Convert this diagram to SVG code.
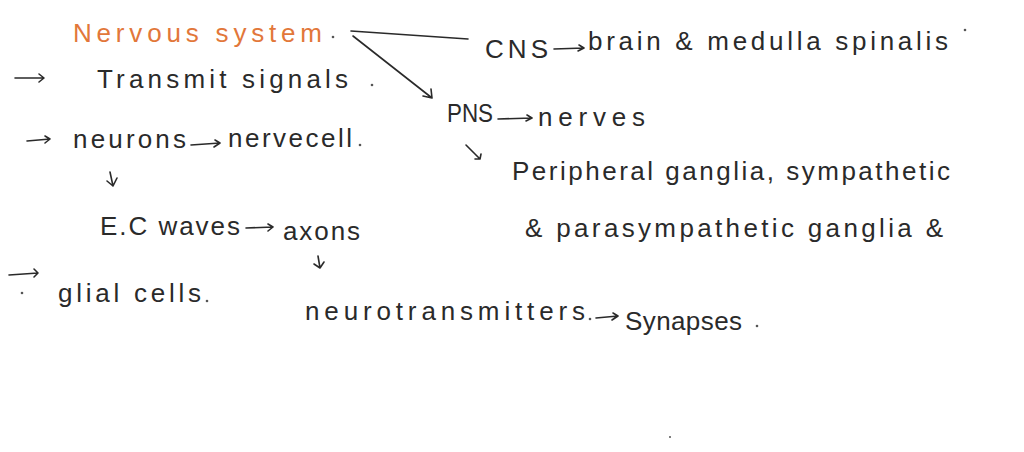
<svg xmlns="http://www.w3.org/2000/svg" width="1024" height="452" viewBox="0 0 1024 452">
<defs>
<style>
.t{font-family:"Liberation Sans",Arial,sans-serif;font-size:26px;fill:#2a2a2a;font-weight:normal}
.o{fill:#e2773a}
.c{fill:none;stroke:#2a2a2a;stroke-width:1.6;stroke-linecap:round;stroke-linejoin:round}
.d{fill:#555}
</style>
</defs>
<rect width="1024" height="452" fill="#ffffff"/>
<g id="connectors">
<path class="c" d="M351 31 L468 39"/>
<path class="c" d="M353 36 L432 98 M423 96 L432 98 L431 89"/>
<path class="c" d="M15 78 L44 78 M39 74 L44 78 L39 82"/>
<path class="c" d="M554 49 L584 48 M579 45 L584 48 L578 51"/>
<path class="c" d="M498 119 L532 118 M527 115 L532 118 L526 121"/>
<path class="c" d="M27 141 L50 139 M45 136 L50 139 L45 143"/>
<path class="c" d="M191 145 L220 143 M215 140 L220 143 L214 147"/>
<path class="c" d="M466 145 L480 159 M475 159 L480 159 L481 154"/>
<path class="c" d="M110 172 L113 186 M107 181 L113 186 L117 178"/>
<path class="c" d="M246 228 L273 227 M268 224 L273 227 L268 231"/>
<path class="c" d="M318 256 L320 268 M314 264 L320 268 L324 262"/>
<path class="c" d="M9 275 L38 273 M34 269 L38 273 L34 277"/>
<path class="c" d="M596 318 L618 316 M613 313 L618 316 L612 320"/>
</g>
<g id="node-nervous-system"><text class="t o" x="73" y="42" font-size="24" textLength="249" lengthAdjust="spacing">Nervous system</text><circle class="d" cx="333" cy="37" r="1.3"/></g>
<g id="node-cns"><text class="t" x="485" y="58" textLength="63" lengthAdjust="spacing">CNS</text></g>
<g id="node-cns-detail"><text class="t" x="588" y="50" textLength="360" lengthAdjust="spacing">brain &amp; medulla spinalis</text><circle class="d" cx="965" cy="30" r="1.3"/></g>
<g id="node-transmit"><text class="t" x="97" y="88" textLength="251" lengthAdjust="spacing">Transmit signals</text><circle class="d" cx="372" cy="85" r="1.3"/></g>
<g id="node-pns"><text class="t" x="447" y="122" font-size="23" textLength="46" lengthAdjust="spacingAndGlyphs">PNS</text><text class="t" x="538" y="126" textLength="107" lengthAdjust="spacing">nerves</text></g>
<g id="node-neurons"><text class="t" x="73" y="148" textLength="113" lengthAdjust="spacing">neurons</text><text class="t" x="228" y="147" textLength="124" lengthAdjust="spacing">nervecell</text><circle class="d" cx="360" cy="145" r="1.3"/></g>
<g id="node-peripheral"><text class="t" x="512" y="180" textLength="438" lengthAdjust="spacing">Peripheral ganglia, sympathetic</text><text class="t" x="525" y="237" textLength="418" lengthAdjust="spacing">&amp; parasympathetic ganglia &amp;</text></g>
<g id="node-ec"><text class="t" x="100" y="235" textLength="140" lengthAdjust="spacing">E.C waves</text><text class="t" x="283" y="240" textLength="77" lengthAdjust="spacing">axons</text></g>
<g id="node-glial"><circle class="d" cx="22" cy="293" r="1.3"/><text class="t" x="58" y="302" textLength="143" lengthAdjust="spacing">glial cells</text><circle class="d" cx="207" cy="301" r="1.3"/></g>
<g id="node-neurotransmitters"><text class="t" x="305" y="320" textLength="280" lengthAdjust="spacing">neurotransmitters</text><circle class="d" cx="590" cy="319" r="1.3"/><text class="t" x="625" y="330" textLength="117" lengthAdjust="spacing">Synapses</text><circle class="d" cx="757" cy="326" r="1.3"/></g>
<circle class="d" cx="670" cy="437" r="1"/>
</svg>
